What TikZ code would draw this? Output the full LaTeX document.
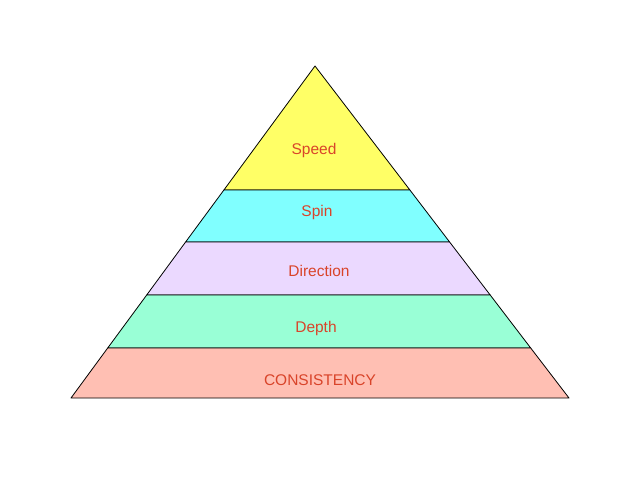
\documentclass[tikz,border=0pt]{standalone}
\usepackage{fontspec}
\setmainfont{Liberation Sans}
\definecolor{cA}{HTML}{FFFF66}
\definecolor{cB}{HTML}{80FFFF}
\definecolor{cC}{HTML}{EBD9FF}
\definecolor{cD}{HTML}{99FFD6}
\definecolor{cE}{HTML}{FFBFB3}
\definecolor{tx}{HTML}{D9442A}
\begin{document}
\begin{tikzpicture}[x=1pt,y=-1pt,
  band/.style={draw=black,line width=0.8pt,line join=round},
  lbl/.style={text=tx,font=\fontsize{15.5}{18}\selectfont}]
\useasboundingbox (0,0) rectangle (640,480);
\fill[white] (0,0) rectangle (640,480);
\draw[band,fill=cA] (315,66) -- (409.9,190) -- (223.9,190) -- cycle;
\draw[band,fill=cB] (223.9,190) -- (409.9,190) -- (449.6,242) -- (185.6,242) -- cycle;
\draw[band,fill=cC] (185.6,242) -- (449.6,242) -- (490.2,295) -- (146.7,295) -- cycle;
\draw[band,fill=cD] (146.7,295) -- (490.2,295) -- (530.7,348) -- (107.7,348) -- cycle;
\draw[band,fill=cE] (107.7,348) -- (530.7,348) -- (569,398) -- (71,398) -- cycle;
\node[lbl] (speed) at (314,150) {Speed};
\node[lbl] (spin) at (317,212) {Spin};
\node[lbl] (dir) at (319,271) {Direction};
\node[lbl] (depth) at (316,328) {Depth};
\node[lbl] (cons) at (320,380) {CONSISTENCY};
\end{tikzpicture}
\end{document}
